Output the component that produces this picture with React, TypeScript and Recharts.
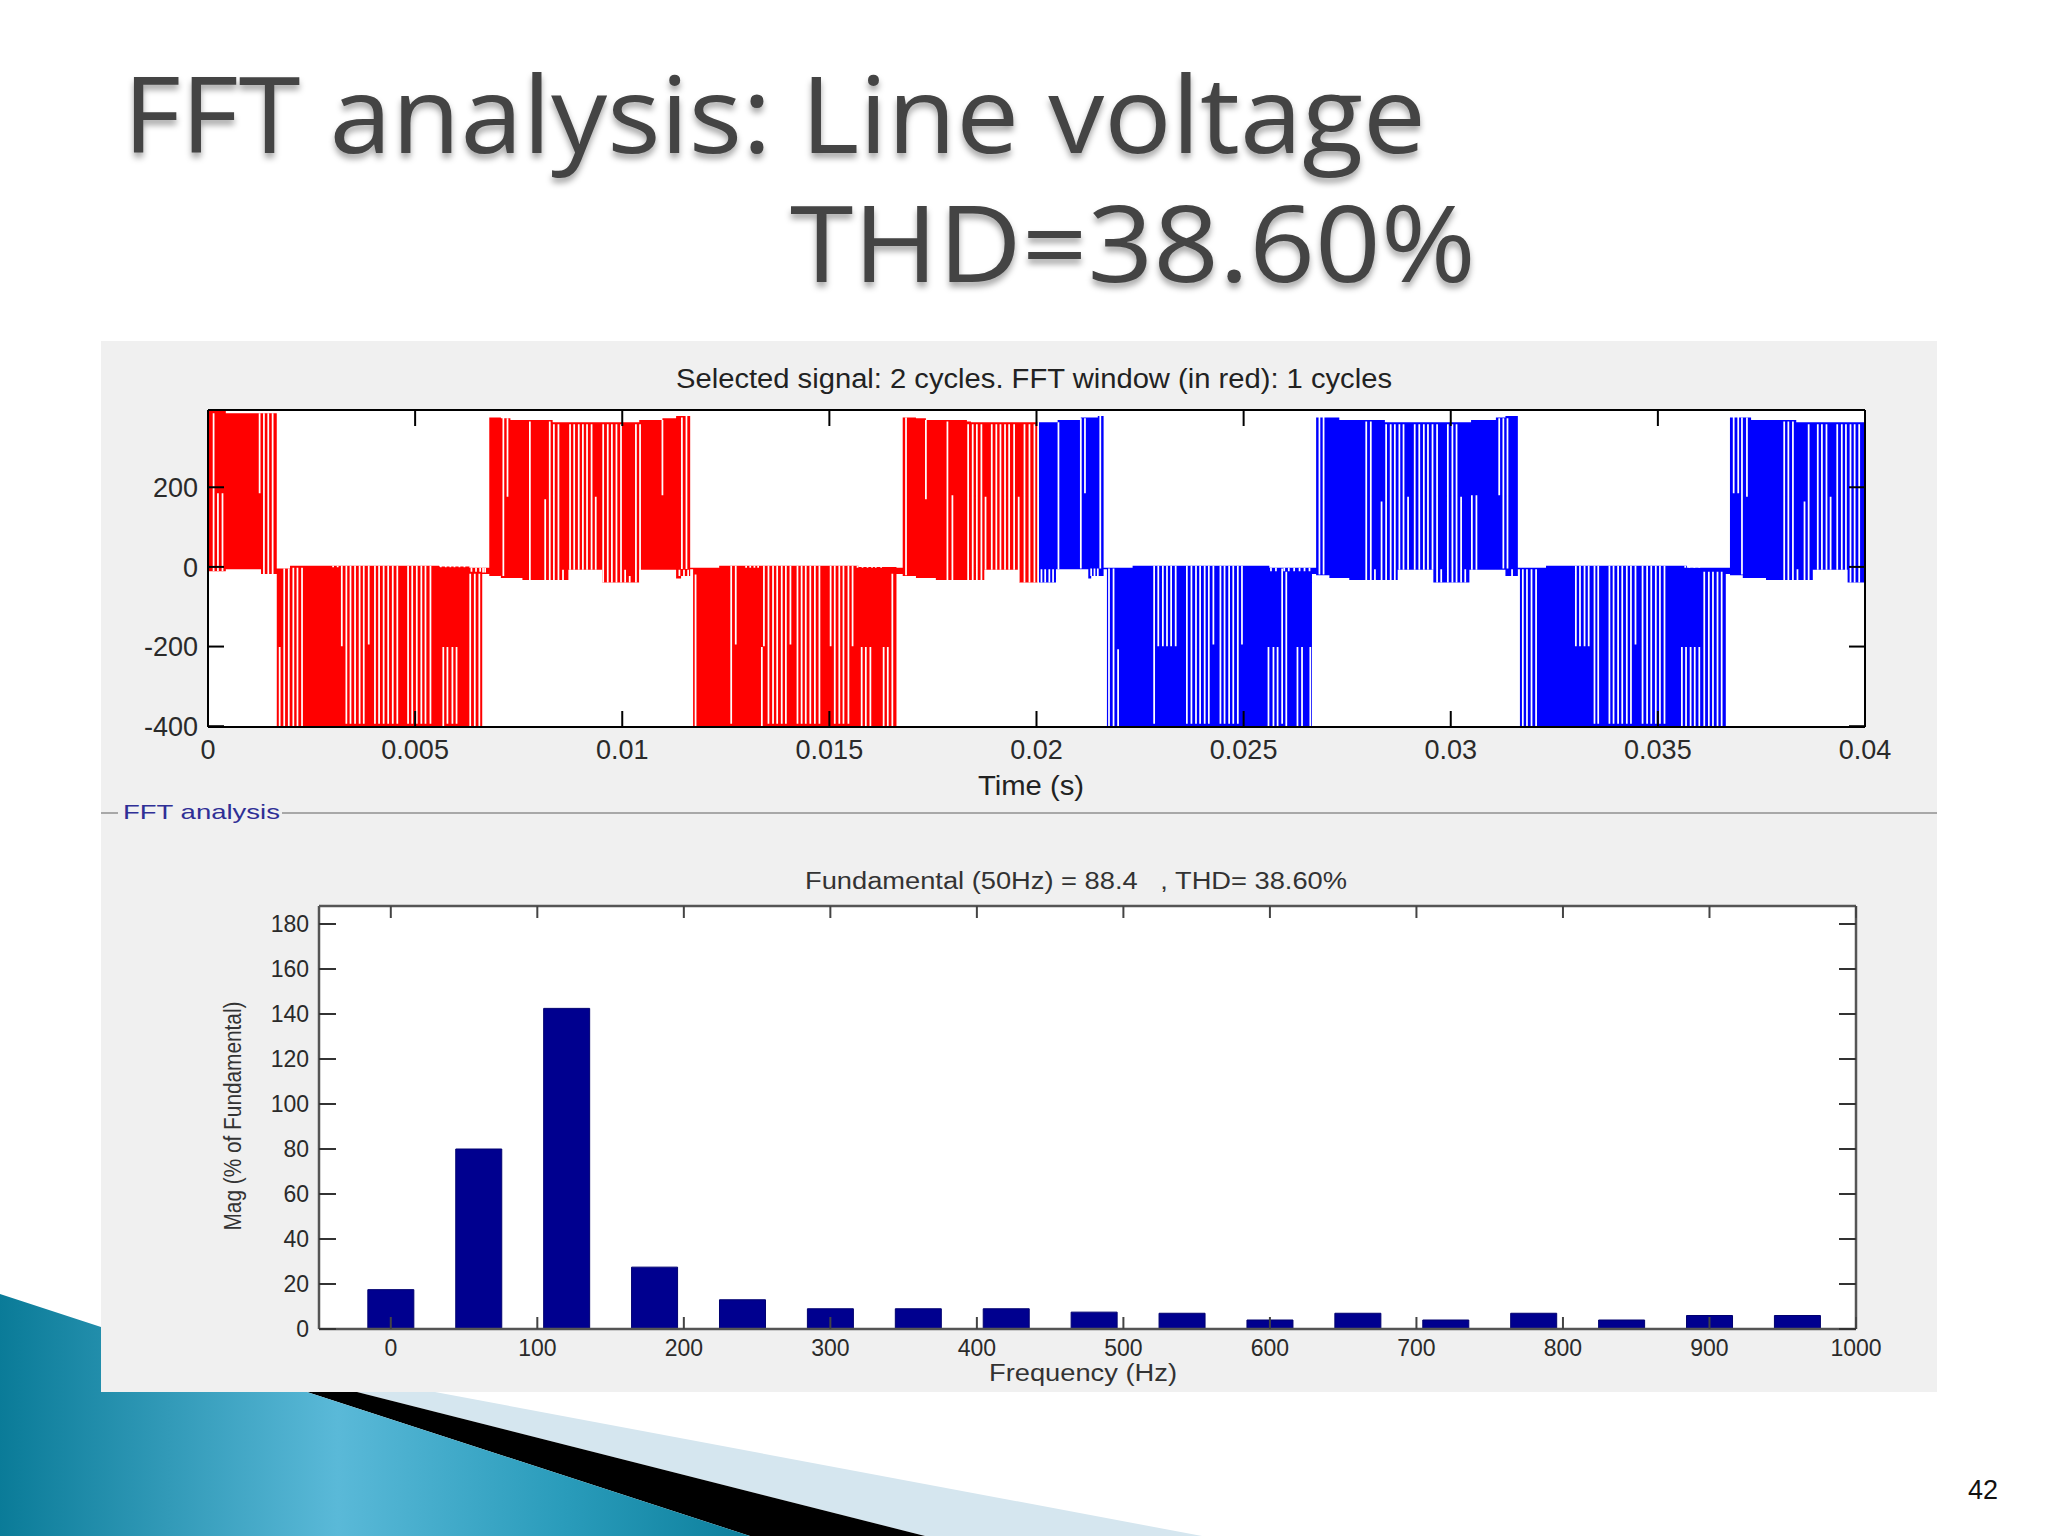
import { AreaChart, Area, BarChart, Bar, XAxis, YAxis, CartesianGrid } from 'recharts'

// upper plot, time in ms, volts
const timeTicks = [0, 5, 10, 15, 20, 25, 30, 35, 40]
const voltTicks = [-400, -200, 0, 200]

// [start, end, low, high] outline of the waveform
const redOutline = [
  [0, 0.43, -11, 392], [0.43, 1.28, -6, 386], [1.28, 1.66, -18, 386],
  [1.66, 1.98, -402, -4], [1.98, 5.58, -402, 3], [5.58, 6.31, -402, 1], [6.31, 6.62, -402, -2],
  [6.62, 6.79, -18, -2],
  [6.79, 7.07, -23, 375], [7.07, 7.3, -28, 373], [7.3, 7.59, -28, 369], [7.59, 8.32, -33, 369],
  [8.32, 8.7, -33, 363], [8.7, 9.52, -7, 363], [9.52, 10.41, -39, 363], [10.41, 10.97, -7, 369],
  [10.97, 11.3, -7, 373], [11.3, 11.42, -29, 379], [11.42, 11.64, -23, 379], [11.64, 11.71, -6, -2],
  [11.71, 12.34, -402, -2], [12.34, 15.7, -402, 3], [15.7, 16.62, -402, 0],
  [16.62, 16.77, -18, -2],
  [16.77, 17.09, -23, 375], [17.09, 17.33, -28, 373], [17.33, 17.57, -28, 369], [17.57, 18.32, -33, 369],
  [18.32, 18.42, -33, 365], [18.42, 18.74, -33, 363], [18.74, 19.58, -7, 363], [19.58, 20.03, -39, 363],
]
const blueOutline = [
  [20.06, 20.47, -39, 363], [20.47, 20.51, -6, 363], [20.51, 21.07, -6, 369], [21.07, 21.25, -6, 375],
  [21.25, 21.32, -29, 375], [21.32, 21.48, -23, 375], [21.48, 21.62, -23, 379], [21.62, 21.7, -6, -2],
  [21.7, 22.32, -402, -2], [22.32, 25.62, -402, 3], [25.62, 26.65, -402, -2],
  [26.65, 26.75, -18, -2],
  [26.75, 27.07, -21, 375], [27.07, 27.31, -28, 375], [27.31, 27.55, -28, 369], [27.55, 28.41, -33, 369],
  [28.41, 28.72, -33, 363], [28.72, 29.58, -7, 363], [29.58, 30.45, -39, 363], [30.45, 30.49, -7, 363],
  [30.49, 31.09, -7, 369], [31.09, 31.32, -7, 375], [31.32, 31.62, -23, 379], [31.62, 31.67, -6, -2],
  [31.67, 32.3, -402, -2], [32.3, 35.7, -402, 3], [35.7, 36.64, -402, -2],
  [36.64, 36.74, -18, -2],
  [36.74, 37.05, -21, 375], [37.05, 37.25, -28, 375], [37.25, 37.61, -28, 369], [37.61, 38.34, -33, 369],
  [38.34, 38.74, -33, 363], [38.74, 39.58, -7, 363], [39.58, 40, -39, 363],
]

// pwm off-times: [high, low, times]
const offTimes: [number, number, number[]][] = [
  [386, -10, [0.135]],
  [185, -10, [0.24, 0.35]],
  [386, 185, [1.246]],
  [386, -18, [1.35, 1.455, 1.56]],
  [-201, -402, [1.73, 5.68]],
  [-4, -402, [1.84, 1.95]],
  [-2, -402, [2.06, 2.16, 2.27]],
  [3, -199, [3.23]],
  [3, -394, [3.34, 3.44, 3.55, 3.66, 3.76, 4.03, 4.13, 4.24, 4.35, 4.46, 4.57, 4.83, 4.93, 5.04, 5.15, 5.25, 5.37]],
  [3, -195, [3.88]],
  [-201, -394, [5.78, 5.9, 6.0]],
  [-17, -402, [6.33, 6.44, 6.55]],
  [3, -1, [3.02, 3.13, 5.62, 5.74, 5.85, 5.95, 6.07, 6.19]],
  [-2, -12, [6.36, 6.47, 6.57]],
  [-2, -14, [6.64, 6.69]],
  [375, -23, [7.13]],
  [373, 176, [7.23]],
  [365, -33, [7.77, 8.25, 17.85, 27.96, 28.07, 38.05, 38.15, 38.26]],
  [170, -33, [8.14]],
  [358, -33, [8.35, 8.46, 18.35, 18.46, 18.56, 18.67, 28.44, 28.55, 28.65, 38.64]],
  [-7, -33, [8.57]],
  [358, -7, [8.74, 8.84, 8.95, 9.05, 9.15, 9.26, 18.92, 19.03, 19.13, 19.24, 19.34, 19.46, 28.76, 28.86, 29.13, 29.24, 29.35, 29.45, 29.56, 38.86, 38.96, 39.07, 39.33, 39.44]],
  [176, -7, [9.36, 18.77, 28.97, 39.17]],
  [358, -39, [9.54, 9.65, 9.75, 9.86, 9.97, 10.33, 10.43, 19.71, 19.83, 19.95, 29.67, 29.93, 30.04, 30.14, 39.54, 39.65, 39.75, 39.86]],
  [-7, -39, [10.07]],
  [-23, -39, [10.18]],
  [369, 180, [10.97]],
  [-7, -23, [11.38, 11.49, 11.59]],
  [375, -5, [11.44]],
  [379, -5, [11.55]],
  [-19, -402, [11.77]],
  [3, -394, [12.63, 13.53, 13.64, 13.74, 13.85, 13.95, 14.23, 14.33, 14.43, 14.54, 14.65, 14.76, 15.13, 15.24, 15.34, 15.46, 22.84, 23.63, 23.74, 23.85, 23.95, 24.06, 24.16, 24.44, 24.54, 24.65, 24.75, 24.86, 33.47, 33.56, 33.83, 33.93, 34.04, 34.14, 34.25, 34.35, 34.63, 34.74, 34.84, 34.95, 35.05, 35.16]],
  [3, -195, [12.74, 14.06, 24.27, 24.96, 34.46]],
  [3, -2, [12.99, 13.09, 13.19, 13.28, 15.68, 15.8, 15.92, 16.03, 16.12, 16.25, 35.66, 35.76, 35.88, 36.0]],
  [-201, -402, [13.37, 15.78, 15.88, 15.99, 16.31, 16.41, 25.6, 25.72, 25.82, 26.3, 26.41, 26.61, 35.58, 35.68, 35.79, 35.89, 36.0]],
  [3, -199, [13.42, 15.03, 15.56, 22.94, 23.05, 23.15, 23.25, 23.36, 33.02, 33.12, 33.23, 33.33]],
  [-17, -402, [16.52]],
  [375, -21, [16.85]],
  [369, 170, [17.33]],
  [180, -33, [17.97]],
  [176, -39, [19.57, 30.25]],
  [363, -39, [20.04]],
  [-6, -39, [20.12, 20.21, 20.31, 20.4, 29.77, 30.35]],
  [363, -6, [20.53]],
  [373, -4, [21.07, 31.27, 31.37]],
  [373, 185, [21.17]],
  [-4, -23, [21.32, 21.4, 21.48]],
  [379, -4, [21.54]],
  [-4, -402, [21.75, 21.86]],
  [-207, -402, [21.97]],
  [-4, -394, [25.93]],
  [-12, -402, [26.03, 36.12, 36.23, 36.33, 36.44, 36.54]],
  [-2, -11, [25.66, 25.78, 25.98, 26.09, 26.22, 26.35, 26.47, 26.59]],
  [379, -19, [26.83, 26.93]],
  [-6, -33, [28.17, 38.37]],
  [164, -33, [28.33, 38.54]],
  [180, -7, [30.51, 30.62]],
  [373, 180, [31.17]],
  [-6, -23, [31.48]],
  [-6, -402, [31.74, 31.84, 31.95, 32.06]],
  [379, 185, [36.83, 36.94]],
  [375, -19, [37.03]],
  [375, 176, [37.15]],
]

// lower plot
const harmonicFreqs = [0, 60, 120, 180, 240, 300, 360, 420, 480, 540, 600, 660, 720, 780, 840, 900, 960]
const harmonicMags = [17.5, 80, 142.5, 27.5, 13, 9, 9, 9, 7.5, 7, 4, 7, 4, 7, 4, 6, 6]
const freqTicks = [0, 100, 200, 300, 400, 500, 600, 700, 800, 900, 1000]
const magTicks = [0, 20, 40, 60, 80, 100, 120, 140, 160, 180]

const sans = '"Liberation Sans", Arial, sans-serif'
const OFF_WIDTH = 0.042

const waveRows: any[] = []
const addBlock = (key: string, start: number, end: number, low: number, high: number) => {
  waveRows.push({ t: start, [key]: [low, high] })
  waveRows.push({ t: end, [key]: [low, high] })
  waveRows.push({ t: end, [key]: null })
}
redOutline.forEach(([a, b, lo, hi]) => addBlock('red', a, b, lo, hi))
blueOutline.forEach(([a, b, lo, hi]) => addBlock('blue', a, b, lo, hi))
offTimes.forEach(([hi, lo, times]) =>
  times.forEach((t) => addBlock('off', t - OFF_WIDTH / 2, t + OFF_WIDTH / 2, lo, hi))
)

const fftRows = harmonicFreqs.map((freq, i) => ({ freq, mag: harmonicMags[i] }))

const timeLabel = (ms: number) => (ms === 0 ? '0' : String(ms / 1000))

function edgeTick(side: string, len: number, color: string, size: number, fmt?: (v: number) => string) {
  return (p: any) => {
    const { x, y, payload } = p
    const label = fmt ? fmt(payload.value) : String(payload.value)
    if (side === 'bottom')
      return (
        <g>
          <line x1={x} x2={x} y1={y} y2={y - len} stroke={color} strokeWidth={2} />
          <text x={x} y={y + 32 * size / 27} textAnchor="middle" fontSize={size} fontFamily={sans} fill="#2a2a2a">{label}</text>
        </g>
      )
    if (side === 'left')
      return (
        <g>
          <line x1={x} x2={x + len} y1={y} y2={y} stroke={color} strokeWidth={2} />
          <text x={x - 10} y={y + size * 0.36} textAnchor="end" fontSize={size} fontFamily={sans} fill="#2a2a2a">{label}</text>
        </g>
      )
    if (side === 'top') return <line x1={x} x2={x} y1={y} y2={y + len} stroke={color} strokeWidth={2} />
    return <line x1={x} x2={x - len} y1={y} y2={y} stroke={color} strokeWidth={2} />
  }
}

function WaveChart() {
  const axis = { stroke: '#000', strokeWidth: 2 }
  return (
    <AreaChart
      width={1836}
      height={470}
      data={waveRows}
      margin={{ top: 68, right: 71, bottom: 83, left: 106 }}
    >
      <CartesianGrid horizontal={false} vertical={false} fill="#ffffff" />
      <XAxis dataKey="t" type="number" domain={[0, 40]} ticks={timeTicks} interval={0} height={1} tickSize={0} tickMargin={0} axisLine={axis} tickLine={false} allowDataOverflow tick={edgeTick('bottom', 16, '#000', 27, timeLabel)} />
      <XAxis xAxisId="top" orientation="top" dataKey="t" type="number" domain={[0, 40]} ticks={timeTicks} interval={0} height={1} tickSize={0} tickMargin={0} axisLine={axis} tickLine={false} allowDataOverflow tick={edgeTick('top', 16, '#000', 27)} />
      <YAxis type="number" domain={[-402, 394]} ticks={voltTicks} interval={0} width={1} tickSize={0} tickMargin={0} axisLine={axis} tickLine={false} allowDataOverflow tick={edgeTick('left', 16, '#000', 27)} />
      <YAxis yAxisId="right" orientation="right" type="number" domain={[-402, 394]} ticks={voltTicks} interval={0} width={1} tickSize={0} tickMargin={0} axisLine={axis} tickLine={false} allowDataOverflow tick={edgeTick('right', 16, '#000', 27)} />
      <Area dataKey="red" type="linear" fill="#ff0000" fillOpacity={1} stroke="none" dot={false} activeDot={false} isAnimationActive={false} />
      <Area dataKey="blue" type="linear" fill="#0000ff" fillOpacity={1} stroke="none" dot={false} activeDot={false} isAnimationActive={false} />
      <Area dataKey="off" type="linear" fill="#ffffff" fillOpacity={1} stroke="none" dot={false} activeDot={false} isAnimationActive={false} />
    </AreaChart>
  )
}

function FftChart() {
  const axis = { stroke: '#555', strokeWidth: 2.5 }
  return (
    <BarChart
      width={1836}
      height={560}
      data={fftRows}
      margin={{ top: 73, right: 80, bottom: 62, left: 217 }}
    >
      <CartesianGrid horizontal={false} vertical={false} fill="#ffffff" />
      <XAxis dataKey="freq" type="number" domain={[-49, 1000]} ticks={freqTicks} interval={0} height={1} tickSize={0} tickMargin={0} axisLine={axis} tickLine={false} allowDataOverflow tick={edgeTick('bottom', 12, '#444', 23)} />
      <XAxis xAxisId="top" orientation="top" dataKey="freq" type="number" domain={[-49, 1000]} ticks={freqTicks} interval={0} height={1} tickSize={0} tickMargin={0} axisLine={axis} tickLine={false} allowDataOverflow tick={edgeTick('top', 12, '#444', 23)} />
      <YAxis type="number" domain={[0, 188]} ticks={magTicks} interval={0} width={1} tickSize={0} tickMargin={0} axisLine={axis} tickLine={false} allowDataOverflow tick={edgeTick('left', 17, '#333', 23)} />
      <YAxis yAxisId="right" orientation="right" type="number" domain={[0, 188]} ticks={magTicks} interval={0} width={1} tickSize={0} tickMargin={0} axisLine={axis} tickLine={false} allowDataOverflow tick={edgeTick('right', 17, '#333', 23)} />
      <Bar dataKey="mag" fill="#00008f" stroke="#000070" barSize={46} isAnimationActive={false} />
    </BarChart>
  )
}

export default function App() {
  const shadow = { filter: 'drop-shadow(0px 5px 3px rgba(0,0,0,0.35))' }
  return (
    <div style={{ position: 'absolute', left: 0, top: 0, width: 2048, height: 1536, background: '#fff', overflow: 'hidden' }}>
      <svg width={2048} height={1536} style={{ position: 'absolute', left: 0, top: 0 }}>
        <defs>
          <linearGradient id="teal" x1="0" y1="0" x2="1" y2="0">
            <stop offset="0" stopColor="#0a7b98" />
            <stop offset="0.45" stopColor="#5ab9d8" />
            <stop offset="0.75" stopColor="#2a9cbb" />
            <stop offset="1" stopColor="#0c7f9c" />
          </linearGradient>
        </defs>
        <polygon points="357,1392 435,1392 1202,1536 925,1536" fill="#d5e6ef" />
        <polygon points="307,1392 357,1392 925,1536 750,1536" fill="#000" />
        <polygon points="0,1294 101,1327 101,1392 307,1392 750,1536 0,1536" fill="url(#teal)" />
        <text x={123} y={153} fontSize={107} fontFamily='"Open Sans", sans-serif' fill="#444" textLength={1303} lengthAdjust="spacingAndGlyphs" style={shadow}>FFT analysis: Line voltage</text>
        <text x={790} y={282} fontSize={107} fontFamily='"Open Sans", sans-serif' fill="#444" textLength={686} lengthAdjust="spacingAndGlyphs" style={shadow}>THD=38.60%</text>
        <text x={1983} y={1499} fontSize={27} fontFamily={sans} fill="#111" textAnchor="middle">42</text>
        <rect x={101} y={341} width={1836} height={1051} fill="#f0f0f0" />
        <line x1={101} x2={118} y1={813} y2={813} stroke="#a8a8a8" strokeWidth={2} />
        <line x1={282} x2={1937} y1={813} y2={813} stroke="#a8a8a8" strokeWidth={2} />
      </svg>
      <div style={{ position: 'absolute', left: 101, top: 341 }}>
        <WaveChart />
      </div>
      <div style={{ position: 'absolute', left: 101, top: 832 }}>
        <FftChart />
      </div>
      <svg width={2048} height={1536} style={{ position: 'absolute', left: 0, top: 0, pointerEvents: 'none' }}>
        <text x={1034} y={388} fontSize={27} fontFamily={sans} fill="#222" textAnchor="middle" textLength={716} lengthAdjust="spacingAndGlyphs">Selected signal: 2 cycles. FFT window (in red): 1 cycles</text>
        <text x={1031} y={795} fontSize={27} fontFamily={sans} fill="#222" textAnchor="middle" textLength={106} lengthAdjust="spacingAndGlyphs">Time (s)</text>
        <text x={123} y={819} fontSize={21} fontFamily={sans} fill="#2f2f96" textLength={157} lengthAdjust="spacingAndGlyphs">FFT analysis</text>
        <text x={1076} y={889} fontSize={23} fontFamily={sans} fill="#333" textAnchor="middle" textLength={542} lengthAdjust="spacingAndGlyphs" style={{ whiteSpace: 'pre' }}>Fundamental (50Hz) = 88.4   , THD= 38.60%</text>
        <text x={1083} y={1381} fontSize={23} fontFamily={sans} fill="#333" textAnchor="middle" textLength={188} lengthAdjust="spacingAndGlyphs">Frequency (Hz)</text>
        <text transform="translate(241,1116) rotate(-90)" fontSize={23} fontFamily={sans} fill="#333" textAnchor="middle" textLength={229} lengthAdjust="spacingAndGlyphs">Mag (% of Fundamental)</text>
      </svg>
    </div>
  )
}
